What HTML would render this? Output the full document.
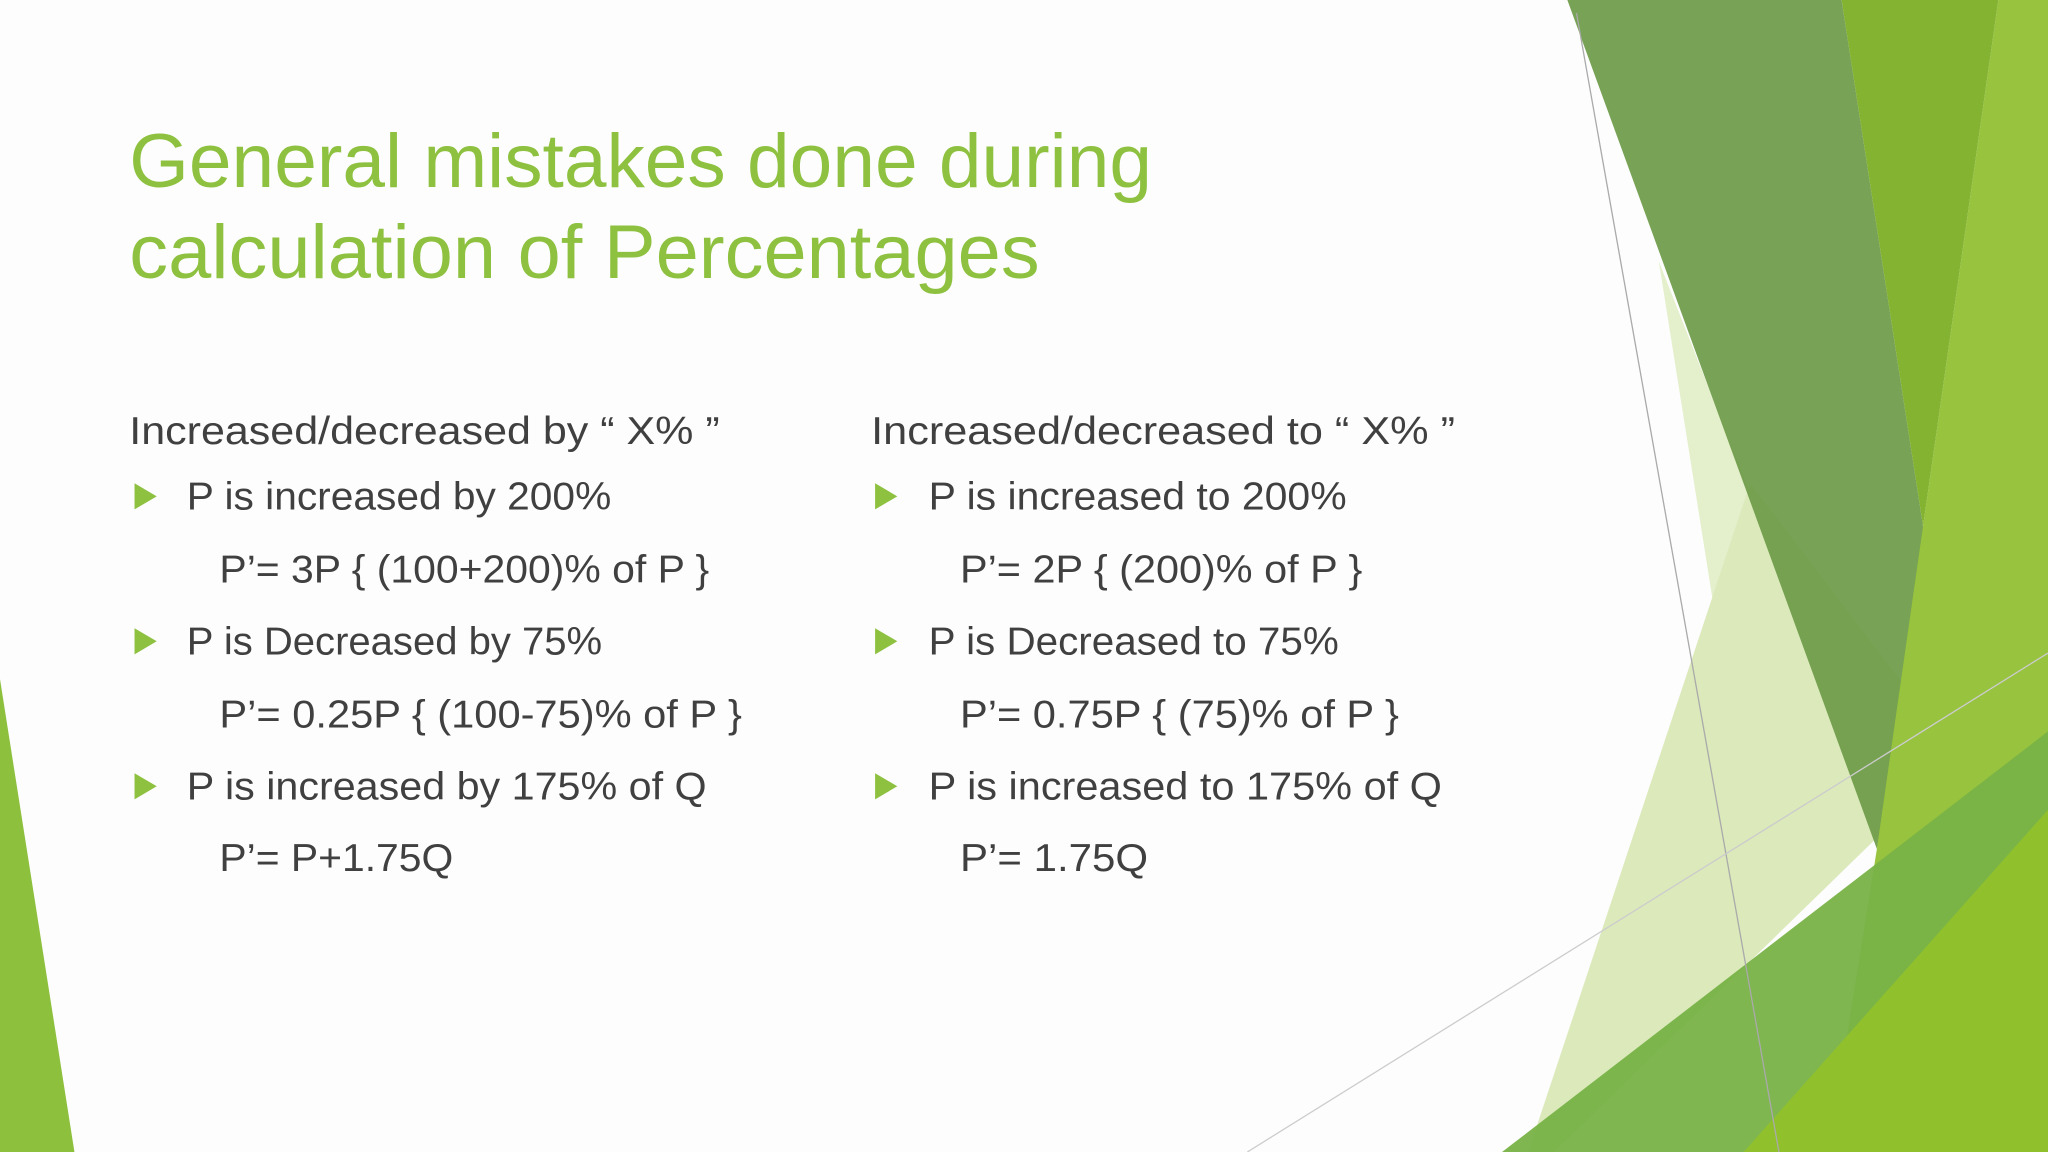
<!DOCTYPE html>
<html><head><meta charset="utf-8"><style>html,body{margin:0;padding:0;background:#fff}svg{display:block}text{font-family:"Liberation Sans",sans-serif}</style></head>
<body>
<svg width="2048" height="1152" viewBox="0 0 1568 882">
<rect width="1568" height="882" fill="#fdfdfd"/>
<g>
<polygon points="0,520 57,882 0,882" fill="#8dc03c"/>
<polygon points="1270,200 1420,580 1340,640" fill="#e4efcc"/>
<polygon points="1340,370 1500,580 1190,882 1170,882" fill="#dbe9bb"/>
<polygon points="1200,0 1410,0 1475,420 1437,650" fill="#6d9a48" opacity="0.92"/>
<polygon points="1410,0 1530,0 1437,650 1475,420" fill="#84b331"/>
<polygon points="1530,0 1568,0 1568,882 1400,882 1437,650" fill="#97c33e"/>
<polygon points="1150,882 1568,560 1568,882" fill="#78b247" opacity="0.95"/>
<polygon points="1335,882 1568,620 1568,882" fill="#90c12d"/>
<line x1="1207" y1="10" x2="1362" y2="882" stroke="#aaa" stroke-width="1"/>
<line x1="955" y1="882" x2="1568" y2="500" stroke="#ccc" stroke-width="1"/>
</g>
<g fill="#8dc13f" font-size="58">
<text x="99" y="143" textLength="783" lengthAdjust="spacingAndGlyphs">General mistakes done during</text>
<text x="99" y="213" textLength="697" lengthAdjust="spacingAndGlyphs">calculation of Percentages</text>
</g>
<g fill="#404040" font-size="30">
<text x="99" y="340" textLength="452" lengthAdjust="spacingAndGlyphs">Increased/decreased by “ X% ”</text>
<text x="143" y="390" textLength="325" lengthAdjust="spacingAndGlyphs">P is increased by 200%</text>
<text x="168" y="446" textLength="375" lengthAdjust="spacingAndGlyphs">P’= 3P { (100+200)% of P }</text>
<text x="143" y="501" textLength="318" lengthAdjust="spacingAndGlyphs">P is Decreased by 75%</text>
<text x="168" y="557" textLength="400" lengthAdjust="spacingAndGlyphs">P’= 0.25P { (100-75)% of P }</text>
<text x="143" y="612" textLength="398" lengthAdjust="spacingAndGlyphs">P is increased by 175% of Q</text>
<text x="168" y="667" textLength="179" lengthAdjust="spacingAndGlyphs">P’= P+1.75Q</text>
</g>
<g fill="#404040" font-size="30">
<text x="667" y="340" textLength="447" lengthAdjust="spacingAndGlyphs">Increased/decreased to “ X% ”</text>
<text x="711" y="390" textLength="320" lengthAdjust="spacingAndGlyphs">P is increased to 200%</text>
<text x="735" y="446" textLength="308" lengthAdjust="spacingAndGlyphs">P’= 2P { (200)% of P }</text>
<text x="711" y="501" textLength="314" lengthAdjust="spacingAndGlyphs">P is Decreased to 75%</text>
<text x="735" y="557" textLength="336" lengthAdjust="spacingAndGlyphs">P’= 0.75P { (75)% of P }</text>
<text x="711" y="612" textLength="393" lengthAdjust="spacingAndGlyphs">P is increased to 175% of Q</text>
<text x="735" y="667" textLength="144" lengthAdjust="spacingAndGlyphs">P’= 1.75Q</text>
</g>
<g fill="#8dc13f">
<polygon points="103,370 120,380 103,390"/>
<polygon points="103,481 120,491 103,501"/>
<polygon points="103,592 120,602 103,612"/>
<polygon points="670,370 687,380 670,390"/>
<polygon points="670,481 687,491 670,501"/>
<polygon points="670,592 687,602 670,612"/>
</g>
</svg>
</body></html>
